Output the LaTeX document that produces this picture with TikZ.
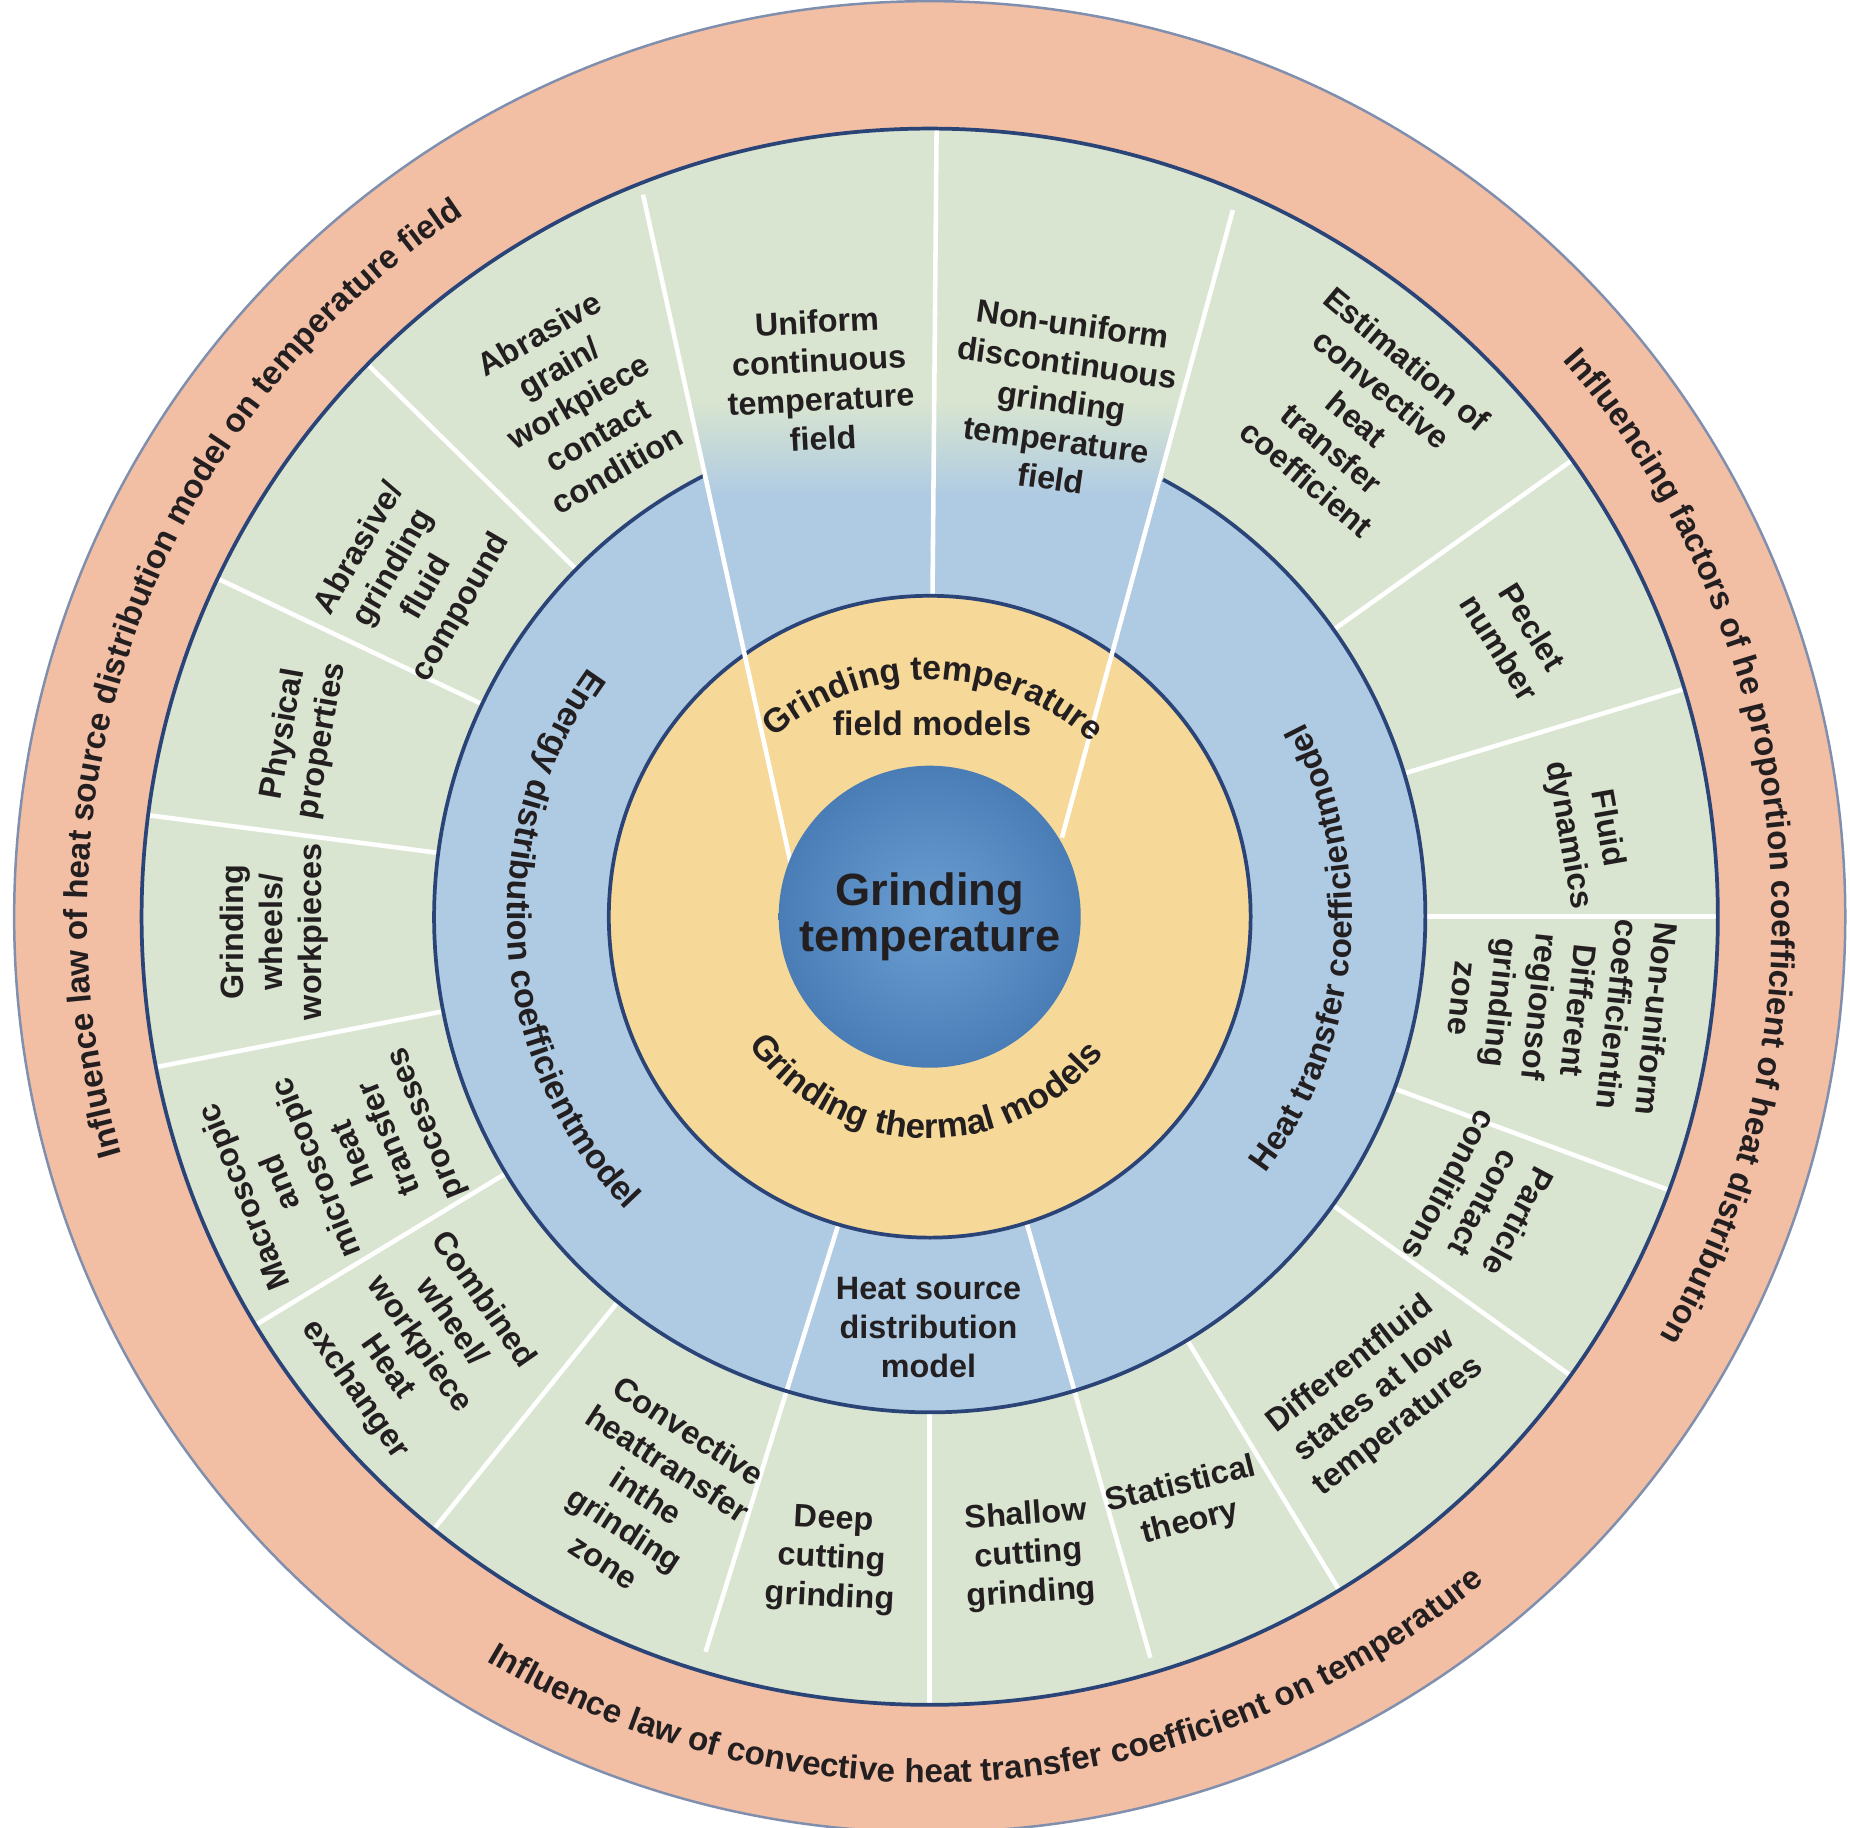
\documentclass[tikz,border=0pt]{standalone}
\usepackage{fontspec}
\setmainfont{Liberation Sans}
\usetikzlibrary{decorations.text}
\definecolor{cred}{HTML}{F2BFA5}
\definecolor{cgreen}{HTML}{D9E5D0}
\definecolor{cblue}{HTML}{AFCBE3}
\definecolor{cyellow}{HTML}{F6D898}
\definecolor{cnavy}{HTML}{2B4477}
\definecolor{ctxt}{HTML}{231F20}
\definecolor{ccin}{HTML}{6A9FD3}
\definecolor{ccout}{HTML}{4A7DB6}
\begin{document}
\begin{tikzpicture}[x=0.1mm,y=0.1mm,
  div/.style={white,line width=1.1pt},
  outl/.style={cnavy,line width=0.9pt},
  gt/.style={font=\bfseries\fontsize{7.8}{9.4}\selectfont,align=center,text=ctxt},
  ct/.style={font=\bfseries\fontsize{10.9}{11.2}\selectfont,align=center,text=ctxt}]
\useasboundingbox (0,0) rectangle (1568,1549);
\coordinate (C) at (788,772);
\begin{scope}
\clip (0,0) rectangle (1568,1549);
\fill[cred] (C) circle[radius=776];
\draw[cnavy!60,line width=0.6pt] (C) circle[radius=776];
\end{scope}
\fill[cgreen] (C) circle[radius=668];
\fill[cblue] (C) circle[radius=420];
% top gradient region
\begin{scope}
\clip (C) circle[radius=668];
\clip (672,809) -- (545,1384) -- (530,1452) -- (1067,1452) -- (1045,1371) -- (900,839) -- cycle;
\fill[cblue] (500,700) rectangle (1100,1129);
\shade[top color=cgreen,bottom color=cblue] (500,1129) rectangle (1100,1209);
\fill[cgreen] (500,1209) rectangle (1100,1460);
\end{scope}
% bottom lines
\coordinate (b1a) at (713,519); \coordinate (b1b) at (598,149);
\coordinate (b2a) at (866,527); \coordinate (b2b) at (975,144);
\draw[div] (b1a) -- (b1b);
\draw[div] (b2a) -- (b2b);
% radial dividers
\foreach \a in {35.4,16.8,0,-20.3,-35.6,-58.7,-90,-129,-148.8,-169,172.6,154.6,135.5}
  \draw[div] ([shift={(\a:420)}]C) -- ([shift={(\a:668)}]C);
\draw[div] ([shift={(89.5:272)}]C) -- ([shift={(89.5:668)}]C);
% outlines
\draw[outl] (C) circle[radius=668];
\draw[outl] ([shift={(117:420)}]C) arc[start angle=117,end angle=421.9,radius=420];
\fill[cyellow] (C) circle[radius=272];
\draw[outl] (C) circle[radius=272];
% top lines
\coordinate (l1a) at (545,1384); \coordinate (l1b) at (672,809);
\coordinate (l2a) at (1045,1371); \coordinate (l2b) at (900,839);
\draw[div] (l1a) -- (l1b);
\draw[div] (l2a) -- (l2b);
% center
\shade[inner color=ccin,outer color=ccout] (C) circle[radius=128];
\node[ct] (center) at (C) {Grinding\\temperature};
% green texts
\node[gt,rotate=30] (g1) at (490,1209) {Abrasive\\grain/\\workpiece\\contact\\condition};
\node[gt,rotate=3] (g2) at (695,1227) {Uniform\\continuous\\temperature\\field};
\node[gt,rotate=-8] (g3) at (900,1209) {Non-uniform\\discontinuous\\grinding\\temperature\\field};
\node[gt,rotate=-40] (g4) at (1150,1194) {Estimation of\\convective\\heat\\transfer\\coefficient};
\node[gt,rotate=-58] (g5) at (1285,1009) {Peclet\\number};
\node[gt,rotate=-80] (g6) at (1345,844) {Fluid\\dynamics};
\node[gt,rotate=-96] (g7) at (1322,694) {Non-uniform\\coefficientin\\Different\\regionsof\\grinding\\zone};
\node[gt,rotate=-118] (g8) at (1258,529) {Particle\\contact\\conditions};
\node[gt,rotate=38] (g9) at (1165,366) {Differentfluid\\states at low\\temperatures};
\node[gt,rotate=14] (g10) at (1005,274) {Statistical\\theory};
\node[gt,rotate=4] (g11) at (872,231) {Shallow\\cutting\\grinding};
\node[gt,rotate=-3] (g12) at (705,227) {Deep\\cutting\\grinding};
\node[gt,rotate=-33] (g13) at (548,281) {Convective\\heattransfer\\inthe\\grinding\\zone};
\node[gt,rotate=-55] (g14) at (355,409) {Combined\\wheel/\\workpiece\\Heat\\exchanger};
\node[gt,rotate=112] (g15) at (285,566) {Macroscopic\\and\\microscopic\\heat\\transfer\\processes};
\node[gt,rotate=90] (g16) at (232,759) {Grinding\\wheels/\\workpieces};
\node[gt,rotate=80] (g17) at (257,924) {Physical\\properties};
\node[gt,rotate=60] (g18) at (348,1059) {Abrasive/\\grinding\\fluid\\compound};
% blue bottom
\node[gt] (hs) at (787,424) {Heat source\\distribution\\model};
\node[gt,font=\bfseries\fontsize{8.2}{9}\selectfont] (fm) at (790,936) {field models};
% curved texts
\path[decorate,decoration={text along path,text align=center,
  text={|\bfseries\fontsize{8}{8}\selectfont\color{ctxt}|Influence law of heat source distribution model on temperature field}}]
  ([shift={(210:714)}]C) arc[start angle=210,end angle=110,radius=714];
\path[decorate,decoration={text along path,text align=center,
  text={|\bfseries\fontsize{8}{8}\selectfont\color{ctxt}|Influencing factors of he proportion coefficient of heat distribution}}]
  ([shift={(45:714)}]C) arc[start angle=45,end angle=-33.5,radius=714];
\path[decorate,decoration={text along path,text align=center,
  text={|\bfseries\fontsize{8}{8}\selectfont\color{ctxt}|Influence law of convective heat transfer coefficient on temperature}}]
  ([shift={(232:734)}]C) arc[start angle=232,end angle=317,radius=734];
\path[decorate,decoration={text along path,text align=center,
  text={|\bfseries\fontsize{8.2}{8}\selectfont\color{ctxt}|Energy distribution coefficientmodel}}]
  ([shift={(130:358)}]C) arc[start angle=130,end angle=238,radius=358];
\path[decorate,decoration={text along path,text align=center,
  text={|\bfseries\fontsize{8}{8}\selectfont\color{ctxt}|Heat transfer coefficientmodel}}]
  ([shift={(-48:358)}]C) arc[start angle=-48,end angle=38,radius=358];
\path[decorate,decoration={text along path,text align=center,
  text={|\bfseries\fontsize{8.2}{8}\selectfont\color{ctxt}|Grinding temperature}}]
  ([shift={(135:201)}]C) arc[start angle=135,end angle=43,radius=201];
\path[decorate,decoration={text along path,text align=center,
  text={|\bfseries\fontsize{8.4}{8}\selectfont\color{ctxt}|Grinding thermal models}}]
  ([shift={(210:188)}]C) arc[start angle=210,end angle=327,radius=188];
\end{tikzpicture}
\end{document}
